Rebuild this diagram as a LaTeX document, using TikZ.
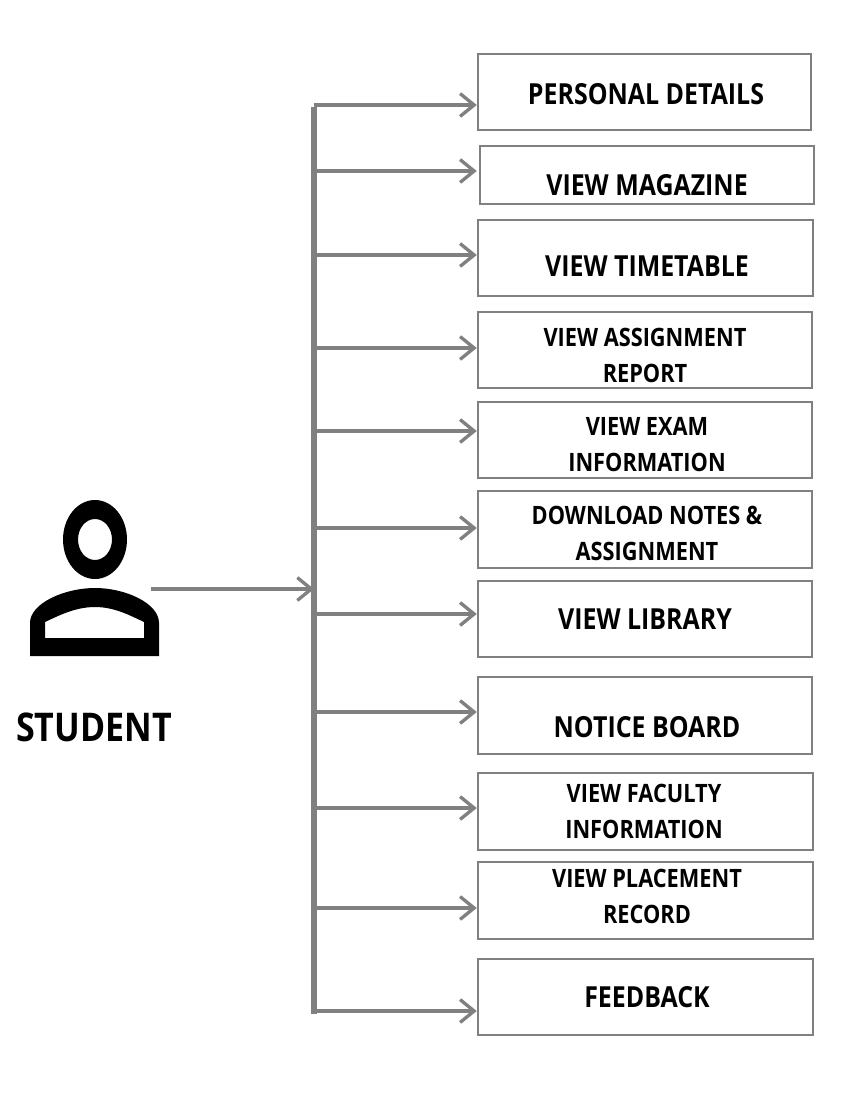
\documentclass[tikz,border=0pt]{standalone}
\usepackage{fontspec}
\usepackage{tikz}
\usetikzlibrary{arrows.meta}
\newfontfamily\labelfont[FakeStretch=0.86]{Open Sans Bold}
\definecolor{linegray}{HTML}{808080}
\tikzset{
  box/.style={draw=linegray,line width=1.4pt,fill=white,inner sep=0pt},
  boxtext/.style={font=\labelfont\fontsize{16.5}{20.5}\selectfont,align=center,inner sep=0pt},
  smalltext/.style={font=\labelfont\fontsize{14.4}{20.5}\selectfont,align=center,inner sep=0pt},
  branch/.style={draw=linegray,line width=2.2pt,-{Straight Barb[length=8pt,width=13pt,line width=1.9pt]}}
}
\begin{document}
\begin{tikzpicture}[x=0.02cm,y=-0.02cm]
\useasboundingbox (0,0) rectangle (841,1111);

\coordinate (trunktop) at (314,107);
\coordinate (trunkend) at (314,1014);
\coordinate (trunkin) at (314,589);
\coordinate (studentout) at (151,589);

% person icon
\fill[black,even odd rule] (95,539.5) ellipse (32 and 39.5) (95,539.5) ellipse (17 and 20.5);
\fill[black,even odd rule] (30,656) -- (30,623) .. controls (30,603) and (65,588) .. (95,588)
  .. controls (125,588) and (159,603) .. (159,623) -- (159,656) -- cycle
  (45,638) -- (45,622) .. controls (58,616) and (75,607) .. (95,607)
  .. controls (115,607) and (131,616) .. (144,622) -- (144,638) -- cycle;
\node[font=\labelfont\fontsize{22.5}{26}\selectfont,inner sep=0pt] (student) at (94,727) {STUDENT};

% boxes
\node[box,minimum width=333*0.02cm,minimum height=76*0.02cm] (personal) at (644.5,92) {};
\node[box,minimum width=334*0.02cm,minimum height=58*0.02cm] (magazine) at (647,175) {};
\node[box,minimum width=335*0.02cm,minimum height=76*0.02cm] (timetable) at (645.5,258) {};
\node[box,minimum width=334*0.02cm,minimum height=76*0.02cm] (assignment) at (645,350) {};
\node[box,minimum width=334*0.02cm,minimum height=76*0.02cm] (exam) at (645,440) {};
\node[box,minimum width=334*0.02cm,minimum height=77*0.02cm] (notes) at (645,529.5) {};
\node[box,minimum width=334*0.02cm,minimum height=76*0.02cm] (library) at (645,619) {};
\node[box,minimum width=334*0.02cm,minimum height=77*0.02cm] (notice) at (645,715.5) {};
\node[box,minimum width=335*0.02cm,minimum height=77*0.02cm] (faculty) at (645.5,811.5) {};
\node[box,minimum width=335*0.02cm,minimum height=77*0.02cm] (placement) at (645.5,900.5) {};
\node[box,minimum width=335*0.02cm,minimum height=76*0.02cm] (feedback) at (645.5,997) {};

% box texts
\node[boxtext] (personaltext) at (646,94) {PERSONAL DETAILS};
\node[boxtext] (magazinetext) at (647,185) {VIEW MAGAZINE};
\node[boxtext] (timetabletext) at (647,266) {VIEW TIMETABLE};
\node[smalltext] (assignmenttext) at (645,355) {VIEW ASSIGNMENT\\REPORT};
\node[smalltext] (examtext) at (647,445) {VIEW EXAM\\INFORMATION};
\node[smalltext] (notestext) at (647,533) {DOWNLOAD NOTES \&\\ASSIGNMENT};
\node[boxtext] (librarytext) at (645,619) {VIEW LIBRARY};
\node[boxtext] (noticetext) at (647,727) {NOTICE BOARD};
\node[smalltext] (facultytext) at (644,811) {VIEW FACULTY\\INFORMATION};
\node[smalltext] (placementtext) at (647,896) {VIEW PLACEMENT\\RECORD};
\node[boxtext] (feedbacktext) at (647,997) {FEEDBACK};

% trunk
\draw[linegray,line width=2.9pt] (trunktop) -- (trunkend);
\draw[branch] (studentout) -- (trunkin);

% branches
\coordinate (b1) at (314,105);
\coordinate (b2) at (314,171);
\coordinate (b3) at (314,255);
\coordinate (b4) at (314,348);
\coordinate (b5) at (314,431);
\coordinate (b6) at (314,528);
\coordinate (b7) at (314,614);
\coordinate (b8) at (314,712);
\coordinate (b9) at (314,808);
\coordinate (b10) at (314,908);
\coordinate (b11) at (314,1011);
\draw[branch] (b1) -- (b1 -| personal.west);
\draw[branch] (b2) -- (b2 -| personal.west);
\draw[branch] (b3) -- (b3 -| timetable.west);
\draw[branch] (b4) -- (b4 -| assignment.west);
\draw[branch] (b5) -- (b5 -| exam.west);
\draw[branch] (b6) -- (b6 -| notes.west);
\draw[branch] (b7) -- (b7 -| library.west);
\draw[branch] (b8) -- (b8 -| notice.west);
\draw[branch] (b9) -- (b9 -| faculty.west);
\draw[branch] (b10) -- (b10 -| placement.west);
\draw[branch] (b11) -- (b11 -| feedback.west);
\end{tikzpicture}
\end{document}
